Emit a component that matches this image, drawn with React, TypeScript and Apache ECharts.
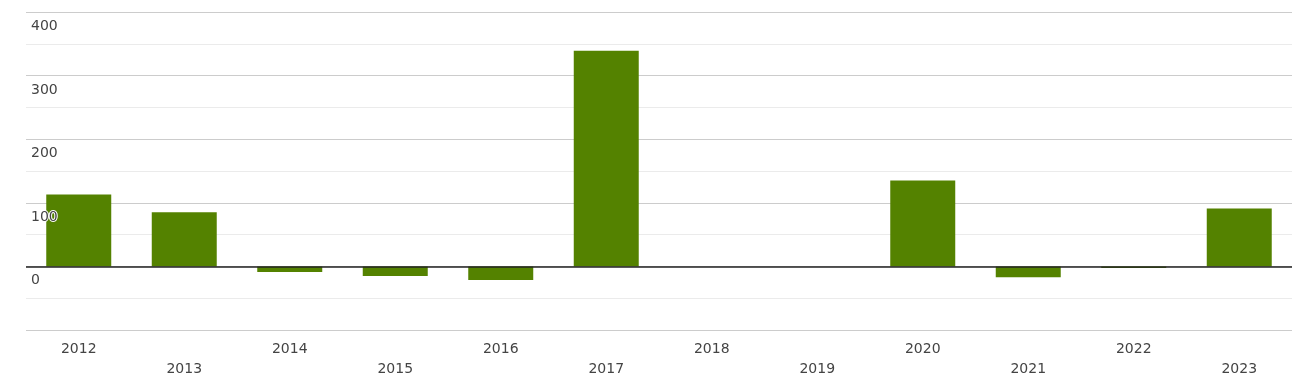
import React, { useEffect, useRef } from "react";
import * as echarts from "echarts";

const categories = ["2012", "2013", "2014", "2015", "2016", "2017", "2018", "2019", "2020", "2021", "2022", "2023"];
const values = [113, 85, -9, -15, -21.5, 339, 0, 0, 135, -17, -2.5, 91];
const yMin = -100;
const yMax = 400;
const yInterval = 100;

export default function App() {
  const ref = useRef<HTMLDivElement>(null);
  useEffect(() => {
    if (!ref.current) return;
    const chart = echarts.init(ref.current, undefined, { renderer: "svg" });
    chart.setOption({
      animation: false,
      grid: { left: 26, right: 1, top: 12, bottom: 54, containLabel: false },
      textStyle: { fontFamily: "DejaVu Sans" },
      xAxis: {
        type: "category",
        data: categories,
        axisLine: { show: false },
        axisTick: { show: false },
        axisLabel: {
          interval: 0,
          color: "#444",
          fontSize: 14,
          fontFamily: "DejaVu Sans",
          lineHeight: 20,
          margin: 8,
          formatter: (v: string, i: number) => (i % 2 === 1 ? "\n" + v : v),
        },
      },
      yAxis: [
        {
          type: "value",
          min: yMin,
          max: yMax,
          interval: yInterval,
          axisLine: { show: false },
          axisTick: { show: false },
          axisLabel: { show: false },
          splitLine: { show: true, lineStyle: { color: "#cccccc", width: 1 } },
          minorTick: { show: false, splitNumber: 2 },
          minorSplitLine: { show: true, lineStyle: { color: "#ebebeb", width: 1 } },
        },
        {
          type: "value",
          position: "left",
          min: yMin,
          max: yMax,
          interval: yInterval,
          axisLine: { show: false },
          axisTick: { show: false },
          splitLine: { show: false },
          axisLabel: {
            inside: true,
            margin: 5,
            color: "#444",
            fontSize: 14,
            fontFamily: "DejaVu Sans",
            verticalAlign: "top",
            lineHeight: 14,
            padding: [6, 0, 0, 0],
            textBorderColor: "#ffffff",
            textBorderWidth: 2,
            formatter: (v: number) => (v === yMin ? "" : String(v)),
          },
          z: 10,
        },
      ],
      series: [
        {
          type: "bar",
          yAxisIndex: 0,
          data: values,
          barWidth: "61.6%",
          itemStyle: { color: "#548200" },
          markLine: {
            silent: true,
            symbol: "none",
            label: { show: false },
            lineStyle: { color: "#222222", width: 1.5, type: "solid", opacity: 1 },
            data: [{ yAxis: 0 }],
          },
        },
      ],
    });
    return () => chart.dispose();
  }, []);
  return <div ref={ref} style={{ position: "fixed", left: 0, top: 0, width: 1293, height: 384 }} />;
}
